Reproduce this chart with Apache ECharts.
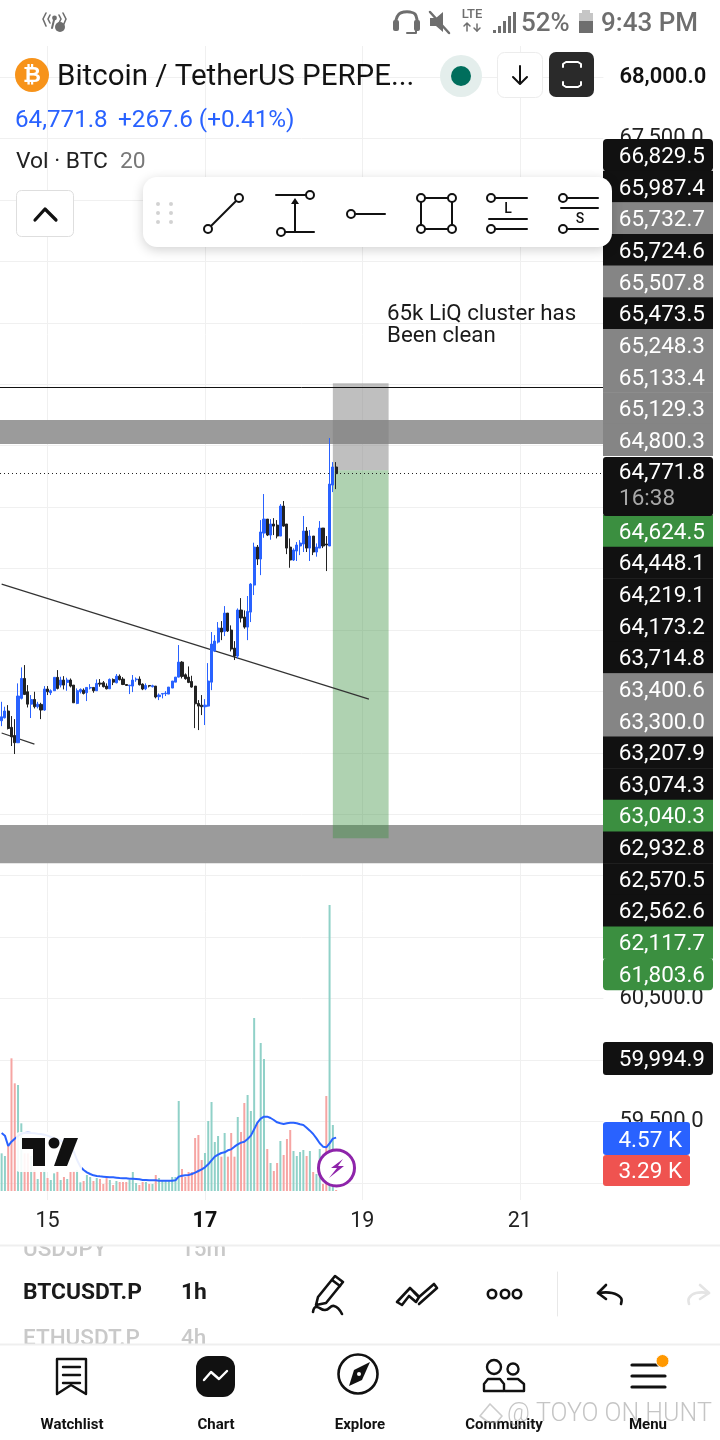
<!DOCTYPE html>
<html>
<head>
<meta charset="utf-8">
<title>Bitcoin / TetherUS PERPETUAL chart</title>
<style>html,body{margin:0;padding:0;background:#fff}#c{width:720px;height:1440px}</style>
<script src="https://cdn.jsdelivr.net/npm/echarts@6/dist/echarts.min.js"></script>
</head>
<body>
<div id="c"></div>
<script>
const opens=[62761,62785,62840,62707,62641,62582,62943,63105,62997,62896,62934,62875,62894,62848,63019,62989,63005,63114,63051,63092,63073,63092,63051,62902,62997,63010,62989,63027,63032,63005,63067,63070,63043,63021,63097,63070,63124,63100,63056,63046,63043,63095,63100,63059,63021,63048,63038,63043,62957,62978,62981,62978,63027,63075,63116,63238,63135,63116,63081,63043,62902,62888,62875,62880,63075,63328,63401,63515,63488,63637,63499,63352,63287,63662,63605,63523,63645,63865,64174,64077,64288,64402,64272,64362,64353,64264,64508,64362,64174,64069,64142,64183,64199,64305,64166,64264,64134,64166,64329,64199,64183,64679,64826];
const closes=[62793,62840,62698,62631,62582,62962,63105,62975,62896,62934,62875,62896,62848,63019,62997,63005,63114,63024,63092,63051,63092,63043,62907,63005,63016,62983,63032,63032,63005,63065,63059,63038,63021,63097,63075,63124,63095,63056,63048,63051,63092,63100,63054,63019,63048,63043,63046,62954,62970,62983,62986,63035,63084,63116,63238,63122,63103,63073,63035,62899,62880,62875,62888,63084,63385,63409,63515,63483,63637,63491,63344,63287,63662,63597,63523,63651,63873,64174,64077,64297,64402,64272,64362,64345,64264,64508,64345,64166,64069,64150,64191,64207,64305,64166,64264,64134,64174,64329,64183,64191,64687,64826,64771.8];
const lows=[62717,62780,62690,62555,62490,62582,62934,62970,62869,62783,62861,62861,62774,62842,62970,62970,63005,63016,63032,63016,63005,63032,62907,62896,62983,62975,62921,63016,62989,63005,63038,63032,63016,63021,63051,63065,63089,63051,63046,62978,62994,63078,63048,63010,63010,63032,63032,62943,62929,62943,62962,62978,63027,63075,63113,63105,63095,63067,63030,62701,62685,62807,62726,62875,63010,63320,63390,63417,63450,63483,63325,63255,63268,63561,63510,63417,63564,63784,64028,63946,64250,64264,64234,64272,64245,64264,64340,64117,64006,64061,64061,64109,64134,64134,64061,64109,64096,64166,64166,63979,64183,64622,64646];
const highs=[62915,62875,62888,62799,62774,63065,63195,63214,63051,62970,62997,62915,62907,63043,63043,63016,63114,63173,63119,63124,63111,63105,63051,63024,63024,63024,63032,63059,63032,63097,63100,63084,63065,63105,63105,63141,63138,63116,63056,63051,63133,63113,63122,63065,63065,63048,63054,63043,62983,62983,63002,63035,63084,63116,63377,63246,63146,63203,63127,63043,62929,62970,62937,63230,63483,63458,63564,63572,63694,63637,63537,63409,63675,63759,63659,63776,63881,64210,64191,64394,64606,64402,64402,64410,64394,64524,64549,64362,64245,64164,64215,64231,64427,64337,64313,64264,64204,64386,64329,64264,65062,64866,64866];

const volumes=[3228,3000,3943,11371,9228,9085,5800,3228,3228,3000,1800,1029,1629,1857,1114,943,1514,1714,943,1200,1029,1629,1714,1800,743,857,1371,1200,857,1114,1029,600,1200,943,514,857,771,771,771,943,1629,686,514,771,771,600,600,1371,1114,857,857,943,1200,1200,7714,1886,1200,1629,1629,4543,4800,2657,3257,6000,7628,4200,4714,2943,4971,2943,4971,2943,6343,5057,7543,8228,6857,14828,5914,12686,11314,3600,2400,1714,2400,4286,3086,4457,5228,3429,3000,3343,3514,3000,3429,1629,1457,3600,600,8143,24514,5657,86];
const volumeMA=[4971,4743,3857,4228,4486,4714,4914,4971,5000,4971,4943,4914,4886,4828,4743,4628,4514,4428,4314,4200,4086,3743,3371,2657,2086,1800,1600,1457,1343,1286,1257,1229,1200,1171,1171,1143,1114,1086,1086,1057,1057,1029,1000,943,943,914,914,914,886,886,886,886,886,914,1229,1314,1343,1371,1457,1571,1714,1857,2029,2286,2629,2943,3114,3257,3314,3486,3571,3800,4000,4143,4228,4457,4743,5286,5857,6200,6371,6371,6257,6086,5886,5800,5743,5800,5857,5857,5800,5714,5657,5429,5171,4886,4514,4086,3800,3743,4086,4486,4571];
const volumeRedIndexes=[2,3,4,7,8,10,12,14,17,19,21,22,25,28,30,31,32,34,36,37,38,42,43,45,47,55,56,57,58,59,60,61,67,69,70,71,73,74,78,81,83,84,86,87,88,93,95,98,99,102];

const hourCount=184;
const dayLabels={14:"15",62:"17",110:"19",158:"21"};
const priceTicks={68000:"{b|68,000.0}",67500:"67,500.0",60500:"60,500.0",59500:"59,500.0"};

const lastPrice=64771.8;
const resistanceLine=65473.5;
const zoneUpper=[65208,65013];
const zoneLower=[61912,61602];
const positionTop=65507.8, positionEntry=64800.3, positionBottom=61803.6;
const positionStart=101, positionEnd=118;
const trendA=[[0,63873],[112,62937]];
const trendB=[[0,62661],[10,62571]];

const upperTags=[["66,829.5","k"],["65,987.4","k"],["65,732.7","g"],["65,724.6","k"],["65,507.8","g"],["65,473.5","k"],["65,248.3","g"],["65,133.4","g"],["65,129.3","g"],["64,800.3","g"]];
const lowerTags=[["64,624.5","e"],["64,448.1","k"],["64,219.1","k"],["64,173.2","k"],["63,714.8","k"],["63,400.6","g"],["63,300.0","g"],["63,207.9","k"],["63,074.3","k"],["63,040.3","e"],["62,932.8","k"],["62,570.5","k"],["62,562.6","k"],["62,117.7","e"],["61,803.6","e"]];
const navItems=[["Watchlist",72],["Chart",216],["Explore",360],["Community",504],["Menu",648]];

const categories=[];for(let i=0;i<hourCount;i++)categories.push(String(i));
const tagFill={k:"#111111",g:"#858585",e:"#3b8f40"};
const F="Roboto, sans-serif";
const INK="#111111";
const g=[];
const Z=100;
function rect(x,y,w,h,fill,r,extra){g.push({type:"rect",z:Z,silent:true,shape:{x,y,width:w,height:h,r:r||0},style:Object.assign({fill},extra||{})});}
function line(x1,y1,x2,y2,w,c){g.push({type:"line",z:Z,silent:true,shape:{x1,y1,x2,y2},style:{stroke:c||INK,lineWidth:w||2,lineCap:"round"}});}
function circ(cx,cy,r,fill,stroke,w){g.push({type:"circle",z:Z,silent:true,shape:{cx,cy,r},style:{fill:fill||"none",stroke:stroke||null,lineWidth:w||0}});}
function poly(pts,stroke,w,smooth){g.push({type:"polyline",z:Z,silent:true,shape:{points:pts,smooth:smooth||0},style:{stroke:stroke||INK,lineWidth:w||2,fill:"none",lineCap:"round",lineJoin:"round"}});}
function polygon(pts,fill){g.push({type:"polygon",z:Z,silent:true,shape:{points:pts},style:{fill}});}
function text(t,x,y,size,fill,weight,align){g.push({type:"text",z:Z,silent:true,style:{text:t,x,y:y+4,fill:fill||INK,font:(weight||400)+" "+size+"px "+F,align:align||"left",verticalAlign:"middle",textAlign:align||"left",textVerticalAlign:"middle"}});}

// ---- status bar
rect(0,0,720,46,"#fff");
poly([[46,13],[43,19],[46,26]],"#6e6e6e",1.6);poly([[63,13],[66,19],[63,26]],"#6e6e6e",1.6);
poly([[50,15],[48,19],[50,23]],"#6e6e6e",1.6);poly([[59,15],[61,19],[59,23]],"#6e6e6e",1.6);
circ(54.5,18,2.4,"#6e6e6e");line(54,20,52,28,2,"#6e6e6e");circ(60,27,5,"#6e6e6e");
poly([[396,26],[396,20],[399,14],[404,12],[410,12],[415,14],[417,20],[417,26]],"#6e6e6e",3,0.4);
rect(393,20,6,11,"#6e6e6e",2);rect(414,20,6,11,"#6e6e6e",2);poly([[416,31],[416,33],[407,33]],"#6e6e6e",2);
polygon([[430,18],[436,18],[443,12],[443,32],[436,26],[430,26]],"#6e6e6e");line(430,12,449,33,2.5,"#6e6e6e");
text("LTE",472,11,13,"#6e6e6e",500,"center");
line(467,24,467,31,1.5,"#6e6e6e");line(477,24,477,31,1.5,"#6e6e6e");
poly([[464,26],[467,23],[470,26]],"#6e6e6e",1.5);poly([[474,28],[477,31],[480,28]],"#6e6e6e",1.5);
[[493,30,3],[498,26,7],[503,21,12],[508,16,17],[513,12,21]].forEach(b=>rect(b[0],b[1],3,b[2],"#6e6e6e"));
text("52%",521,20,26,"#6e6e6e",500);
rect(582,10,8,3,"#c6c6c6");rect(579,13,14,8,"#c6c6c6");rect(579,21,14,12,"#6e6e6e");
text("9:43 PM",601,20,26,"#6e6e6e",500);

// ---- header
circ(32,75,17,"#f7931a");
text("₿",32,72.5,22,"#fff",700,"center");
text("Bitcoin / TetherUS PERPE...",57,74,29.5,"#131313",400);
circ(461,76,21,"#e4eeec");circ(461,76,10,"#006e5c");
rect(497.5,52.5,45,45,"#fff",7,{stroke:"#ececec",lineWidth:1});
line(520,66,520,83,2,INK);poly([[513,77],[520,84],[527,77]],INK,2);
rect(549,52,45,45,"#2a2a2a",7);
poly([[563,67],[563,64],[566,62],[578,62],[581,64],[581,67]],"#fff",2);poly([[563,82],[563,85],[566,87],[578,87],[581,85],[581,82]],"#fff",2);
text("64,771.8",15,117,24.2,"#2962ff");
text("+267.6 (+0.41%)",118,117,24.3,"#2962ff");
text("Vol · BTC",16,158,22.8,"#222");
text("20",120,158,22.8,"#787878");
rect(16.5,190.5,57,46,"#fff",5,{stroke:"#dedede",lineWidth:1});
poly([[35,220],[45,209],[56,220]],INK,3.2);

// ---- price tags
upperTags.forEach((t,k)=>{const c=155+31.65*k;rect(603,c-16,110,32.2,tagFill[t[1]],k===0?4:0);});
lowerTags.forEach((t,k)=>{const c=531+31.65*k;rect(603,c-16,110,32.2,tagFill[t[1]],k===lowerTags.length-1?4:0);});
rect(603,457,110,59,"#111111",3);
rect(603,1042,110,33,"#111111",3);
upperTags.forEach((t,k)=>text(t[0],705,153.5+31.65*k,22.5,"#fff",400,"right"));
lowerTags.forEach((t,k)=>text(t[0],705,529+31.65*k,22.5,"#fff",400,"right"));
text("64,771.8",705,469.5,22.5,"#fff",400,"right");
text("16:38",619,495,22.5,"#a8a8a8",400);
text("59,994.9",705,1056,22.5,"#fff",400,"right");
rect(603,1122,87,33,"#2962ff",3);rect(603,1155,87,31,"#ef5350",3);
text("4.57 K",682,1137,22.5,"#fff",400,"right");
text("3.29 K",682,1168,22.5,"#fff",400,"right");

// ---- drawing toolbar
rect(143,177,469,70,"#fff",14,{shadowBlur:12,shadowColor:"rgba(0,0,0,0.18)",shadowOffsetY:3});
[158,171].forEach(x=>[204,213,222].forEach(y=>circ(x,y,2,"#d2d2d2")));
line(211,226,236,201,2,INK);circ(208,229,4,"#fff",INK,2);circ(239,198,4,"#fff",INK,2);
line(276,195,306,195,2,INK);circ(310,195,4,"#fff",INK,2);line(295,231,295,204,2,INK);polygon([[295,198],[291,204],[299,204]],INK);
line(285,232,314,232,2,INK);circ(281,232,4,"#fff",INK,2);
circ(351,214,4,"#fff",INK,2);line(356,214,385,214,2,INK);
line(421,198,452,198,2,INK);line(421,229,452,229,2,INK);line(421,198,421,229,2,INK);line(452,198,452,229,2,INK);
[[421,198],[452,198],[421,229],[452,229]].forEach(p=>circ(p[0],p[1],4,"#fff",INK,2));
circ(491,198,4,"#fff",INK,2);line(496,198,527,198,2,INK);line(489,219,527,219,2,INK);text("L",508,205,14,INK,500,"center");
circ(491,229,4,"#fff",INK,2);line(496,229,527,229,2,INK);
circ(563,198,4,"#fff",INK,2);line(568,198,598,198,2,INK);line(561,208,598,208,2,INK);text("S",580,215,14,INK,500,"center");
circ(563,229,4,"#fff",INK,2);line(568,229,598,229,2,INK);

// ---- annotation
text("65k LiQ cluster has",387,310,22.3,"#1a1a1a");
text("Been clean",387,332,22.3,"#1a1a1a");

// ---- logo and bolt
rect(16,1132,66,40,"rgba(255,255,255,0.9)",4);
polygon([[22,1138],[45,1138],[45,1166],[33,1166],[33,1149],[22,1149]],"#111");
circ(54,1143,5.5,"#111");
polygon([[64,1138],[78,1138],[67,1166],[54,1166]],"#111");
circ(336.5,1168,18,"#fff","#8e24aa",3);
polygon([[343,1159],[331,1168],[337,1168],[329,1178],[344,1166],[338,1166]],"#8e24aa");

// ---- bottom bar
text("USDJPY",23,1246,22.5,"#c9c9c9",500);text("15m",181,1246,22.5,"#c9c9c9",500);
rect(0,1232,720,14,"#fff");
line(0,1245.5,720,1245.5,2,"#efefef");
text("BTCUSDT.P",23,1289.5,22.8,"#1a1a1a",700);text("1h",181,1289.5,22.8,"#1a1a1a",700);
text("ETHUSDT.P",23,1335,22.5,"#c9c9c9",500);text("4h",181,1335,22.5,"#c9c9c9",500);
rect(0,1344,720,96,"#fff");
line(0,1344.5,720,1344.5,2,"#efefef");
// pencil
poly([[318,1297],[335,1276],[343,1282],[326,1303],[316,1305],[318,1297]],INK,2.6);line(332,1280,340,1286,2.6,INK);
poly([[313,1312],[316,1307],[325,1310],[334,1306],[342,1314]],INK,2.6,0.5);
// pattern
poly([[397,1302],[410,1288],[419,1297],[416,1302],[409,1296],[402,1305],[397,1302]],INK,2.6);
poly([[414,1292],[419,1297],[434,1284],[437,1288],[419,1304]],INK,2.6);
[492,505,517].forEach(x=>circ(x,1294,4.2,"#fff",INK,2.6));
line(557.5,1272,557.5,1316,1,"#e8e8e8");
poly([[606,1285],[598,1293],[606,1299]],INK,2.6);poly([[598,1293],[612,1293],[621,1298],[621,1304]],INK,2.6,0.4);
poly([[700,1285],[709,1293],[700,1299]],"#e4e4e4",2.6);poly([[709,1293],[696,1293],[689,1298],[689,1304]],"#e4e4e4",2.6,0.4);
// watchlist
poly([[57,1359],[86,1359],[86,1394],[71,1385],[57,1394],[57,1359]],INK,2.4);
[1367,1375,1383].forEach(y=>line(63,y,80,y,2.4,INK));
// chart
rect(196,1356,39,41,"#111",12);poly([[204,1380],[211,1372],[219,1379],[227,1371]],"#fff",2.4);
// explore
circ(358,1374,19.5,"none",INK,2.6);polygon([[370,1362],[362,1380],[349,1386],[354,1370]],"#111");circ(359,1374,2,"#fff");
// community
circ(494,1367,7,"none",INK,2.4);circ(513,1369,5.5,"none",INK,2.4);
poly([[484,1391],[484,1384],[488,1379],[500,1379],[504,1384],[504,1391],[484,1391]],INK,2.4);
poly([[508,1379],[518,1379],[524,1384],[524,1391],[505,1391]],INK,2.4);
// menu
[1365,1376,1387].forEach(y=>line(632,y,665,y,3.2,INK));
circ(662.5,1361,6.5,"#ff9800","#fff",1);
navItems.forEach(n=>text(n[0],n[1],1421,15,"#111",700,"center"));
// watermark
text("@ TOYO ON HUNT",507,1411,25,"rgba(150,150,150,0.55)",300);
poly([[490,1404],[480,1416],[488,1422],[497,1422],[502,1416],[490,1404]],"rgba(170,170,170,0.6)",1.6);

const candles=opens.map((o,i)=>[o,closes[i],lows[i],highs[i]]);
const red=new Set(volumeRedIndexes);
const volData=volumes.map((v,i)=>({value:v,itemStyle:{color:red.has(i)?"#f6a5a3":"#90d1c8"}}));

const chart=echarts.init(document.getElementById("c"),null,{renderer:"canvas",width:720,height:1440});
chart.setOption({
  animation:false,
  backgroundColor:"#fff",
  grid:[
    {left:-1,width:604.4,top:15.57,height:1228.72,containLabel:false},
    {left:-1,width:604.4,top:46,height:1154,containLabel:false}
  ],
  xAxis:[
    {type:"category",gridIndex:0,data:categories,boundaryGap:true,axisLine:{show:false},axisTick:{show:false},axisLabel:{show:false},splitLine:{show:false}},
    {type:"category",gridIndex:1,data:categories,boundaryGap:true,axisLine:{show:false},axisTick:{show:false},
      axisLabel:{margin:11,color:"#222",fontFamily:"Roboto",fontSize:21.5,interval:(i)=>i in dayLabels,
        formatter:(v,i)=>i===62?"{b|"+dayLabels[i]+"}":(dayLabels[i]||""),rich:{b:{fontFamily:"Roboto",fontSize:21.5,fontWeight:700,color:"#111"}}},
      splitLine:{show:true,alignWithLabel:true,interval:(i)=>i in dayLabels,lineStyle:{color:"#f0f0f0",width:1}}}
  ],
  yAxis:[
    {type:"value",gridIndex:0,position:"right",min:58500,max:68500,interval:500,axisLine:{show:false},axisTick:{show:false},
      axisLabel:{show:true,margin:16,showMinLabel:true,showMaxLabel:true,color:"#222",fontFamily:"Roboto",fontSize:22,align:"left",padding:[0,0,0,0],
        formatter:(v)=>priceTicks[v]||"",rich:{b:{fontFamily:"Roboto",fontSize:22,fontWeight:600,color:"#111"}}},
      splitLine:{show:true,lineStyle:{color:"#f0f0f0",width:1}}},
    {type:"value",gridIndex:1,min:-771,max:98127,show:false,splitLine:{show:false}}
  ],
  series:[
    {type:"line",xAxisIndex:0,yAxisIndex:0,z:1,data:[],silent:true,symbol:"none",
      markArea:{silent:true,z:1,data:[
        [{yAxis:zoneUpper[0],itemStyle:{color:"#9b9b9b"}},{yAxis:zoneUpper[1]}],
        [{yAxis:zoneLower[0],itemStyle:{color:"#9b9b9b"}},{yAxis:zoneLower[1]}]
      ]}},
    {type:"line",xAxisIndex:0,yAxisIndex:0,z:1,data:[],silent:true,symbol:"none",
      markArea:{silent:true,z:2,data:[
        [{coord:[positionStart,positionTop],itemStyle:{color:"rgba(128,128,128,0.5)"}},{coord:[positionEnd,positionEntry]}],
        [{coord:[positionStart,positionEntry],itemStyle:{color:"rgba(56,142,60,0.4)"}},{coord:[positionEnd,positionBottom]}]
      ]},
      markLine:{silent:true,symbol:"none",label:{show:false},animation:false,data:[
        {yAxis:resistanceLine,lineStyle:{color:"#111",type:"solid",width:1}},
        {yAxis:lastPrice,lineStyle:{color:"#222",type:[1,3],width:1}}
      ]}},
    {type:"bar",xAxisIndex:1,yAxisIndex:1,barWidth:2,z:2,silent:true,data:volData},
    {type:"line",xAxisIndex:1,yAxisIndex:1,z:3,silent:true,showSymbol:false,symbol:"none",lineStyle:{color:"#2962ff",width:2},data:volumeMA},
    {type:"line",xAxisIndex:0,yAxisIndex:0,z:4,silent:true,symbol:"none",lineStyle:{color:"#333",width:1.2},data:trendA},
    {type:"line",xAxisIndex:0,yAxisIndex:0,z:4,silent:true,symbol:"none",lineStyle:{color:"#333",width:1.2},data:trendB},
    {type:"candlestick",xAxisIndex:0,yAxisIndex:0,z:5,silent:true,barWidth:2.6,data:candles,
      itemStyle:{color:"#2962ff",color0:"#222222",borderColor:"#2962ff",borderColor0:"#222222",borderWidth:1}}
  ],
  graphic:{elements:g}
});
</script>
</body>
</html>
